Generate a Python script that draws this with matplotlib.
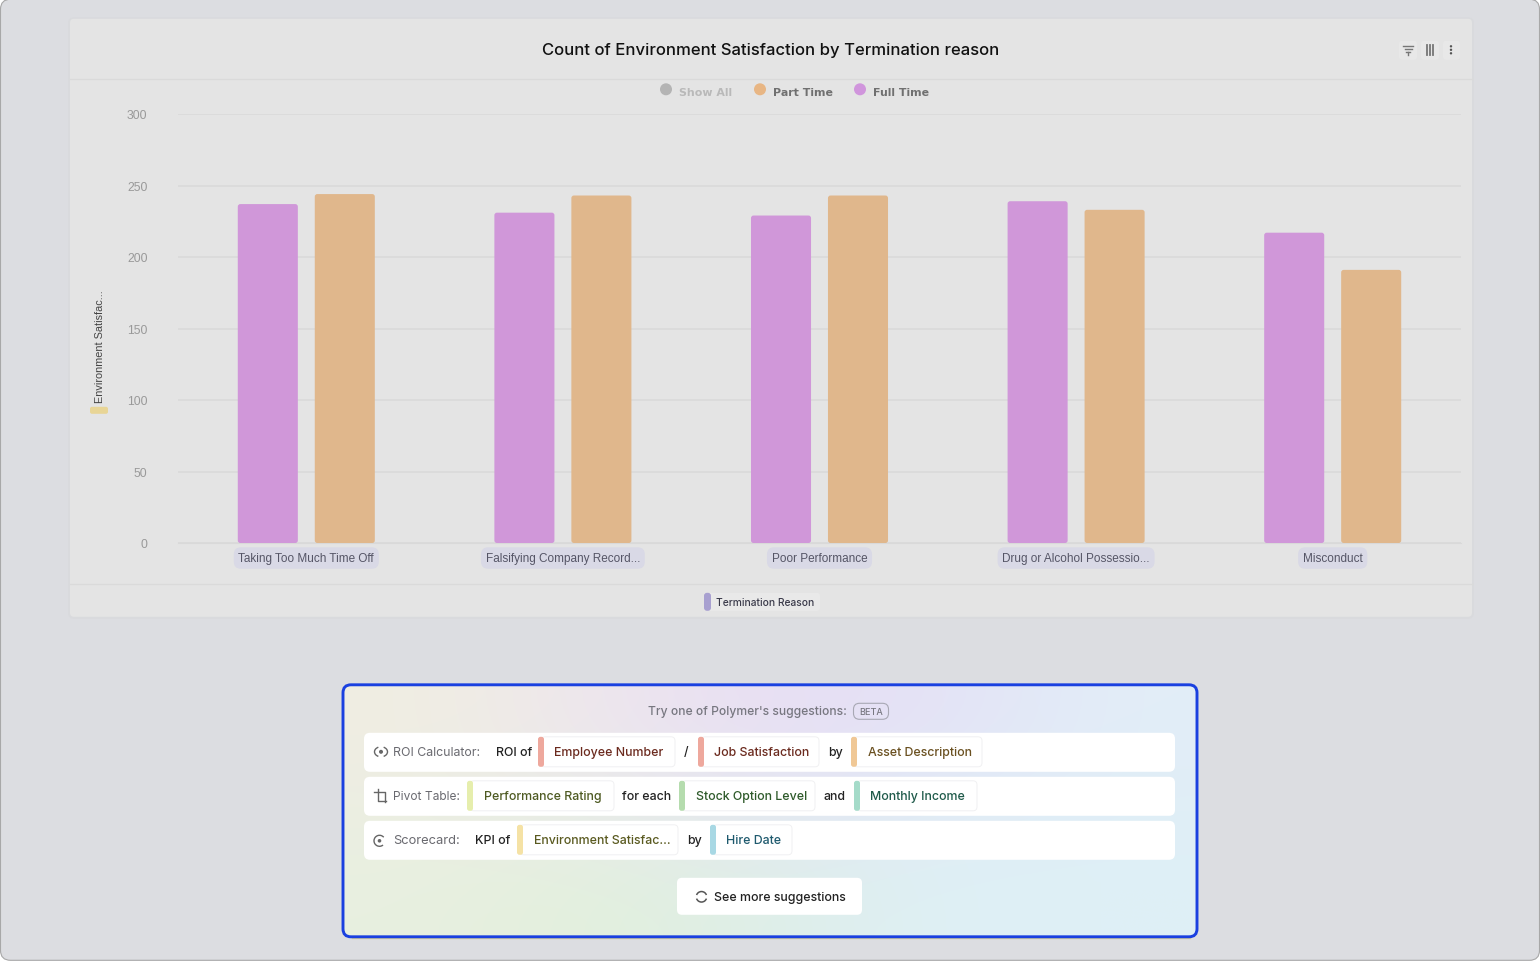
import numpy as np
import matplotlib
matplotlib.use("Agg")
import matplotlib.pyplot as plt
from matplotlib.patches import FancyBboxPatch, Circle, Arc

# chart values
categories = ["Taking Too Much Time Off", "Falsifying Company Record...", "Poor Performance",
              "Drug or Alcohol Possessio...", "Misconduct"]
full_time = [237, 231, 229, 239, 217]
part_time = [244, 243, 243, 233, 191]
y_ticks = [0, 50, 100, 150, 200, 250, 300]

title = "Count of Environment Satisfaction by Termination reason"
legend_names = ["Show All", "Part Time", "Full Time"]

W, H = 1540, 962
SANS = ["Inter", "DejaVu Sans"]
ARIAL = ["Liberation Sans", "DejaVu Sans"]
SHIFT = 0.8  # nudges the whole layer down to sit on the reference pixels

fig = plt.figure(figsize=(W / 100, H / 100), dpi=100, facecolor="white")
ui = fig.add_axes([0, 0, 1, 1], zorder=0)
ui.set_xlim(0, W)
ui.set_ylim(H - SHIFT, -SHIFT)
ui.axis("off")


def box(x0, y0, x1, y1, fc, ec="none", r=4, lw=0, z=1):
    p = FancyBboxPatch((x0, y0), x1 - x0, y1 - y0, boxstyle="round,pad=0,rounding_size=%g" % r,
                       fc=fc, ec=ec, lw=lw, zorder=z)
    ui.add_patch(p)
    return p


def label(x, y, s, size=8.9, color="#222222", ha="left", family=SANS, weight="normal", z=5, **kw):
    return ui.text(x, y, s, fontsize=size, color=color, ha=ha, va="center", family=family,
                   weight=weight, zorder=z, **kw)


# page and card
box(0.5, -0.5, W - 0.5, H - 1.5, "#dcdde1", "#a8a8a8", r=10, lw=0.8, z=0)
box(68, 17.5, 1474, 619, "#d9dadd", r=6, z=1)
box(70, 19, 1472, 617, "#e4e4e4", r=4, z=2)
ui.plot([70, 1472], [79.5, 79.5], color="#dadada", lw=1, zorder=3)
ui.plot([70, 1472], [584.5, 584.5], color="#dadada", lw=1, zorder=3)
label(770.5, 49.5, title, size=12.0, color="#111111", ha="center", weight="medium")

# toolbar icons, top right
for x0, x1 in [(1399, 1417), (1421, 1439), (1443, 1460)]:
    box(x0, 41, x1, 60, "#e8e8e8", r=3, z=3)
for y, half in [(46.5, 5), (49.5, 3.5), (52.5, 2)]:
    ui.plot([1408 - half, 1408 + half], [y, y], color="#777777", lw=1, zorder=4)
ui.plot([1408, 1408], [52.5, 55], color="#777777", lw=1, zorder=4)
for x in [1426.5, 1429.5, 1432.5]:
    ui.plot([x, x], [45, 55], color="#777777", lw=1.3, zorder=4)
for y in [46.5, 50, 53.5]:
    ui.add_patch(Circle((1451, y), 1.2, fc="#555555", zorder=4))

# legend above the plot
legend_dots = ["#b4b4b4", "#e8b684", "#d095dc"]
legend_colors = ["#b9b9b9", "#707070", "#707070"]
for cx, name, dot, col in zip([666, 760, 860], legend_names, legend_dots, legend_colors):
    ui.add_patch(Circle((cx, 89.5), 6, fc=dot, zorder=4))
    label(cx + 13, 92, name, size=7.9, color=col, family=["DejaVu Sans"], weight="bold")

# the bar chart, placed on the pixel box of the original plot
ax = fig.add_axes([178 / W, 1 - 544 / H, (1461 - 178) / W, (544 - 115) / H], zorder=2)
ax.patch.set_alpha(0)
x = np.arange(len(categories))
ax.set_xlim(-0.5, len(categories) - 0.5)
ax.set_ylim(0, 300)
bar_w = 0.234
# rounded corners: radius in x data units, aspect turns it into even pixels
y_per_x = (300 / 429) / (5 / 1283)
for i in range(len(categories)):
    for off, v, col in [(-0.15, full_time[i], "#d097d9"), (0.15, part_time[i], "#e0b78c")]:
        ax.add_patch(FancyBboxPatch((x[i] + off - bar_w / 2, 0), bar_w, v,
                                    boxstyle="round,pad=0,rounding_size=0.01",
                                    mutation_aspect=y_per_x, fc=col, ec="none", zorder=3))
ax.set_yticks(y_ticks)
ax.set_xticks(x)
ax.set_xticklabels(categories)
ax.grid(axis="y", color="#d9d9d9", lw=1.1, zorder=0)
ax.tick_params(axis="y", length=0, pad=22, labelcolor="#999999", labelsize=8.8)
ax.tick_params(axis="x", length=0, pad=6.5, labelcolor="#555566", labelsize=8.5)
for s in ax.spines.values():
    s.set_visible(False)
ax.spines["bottom"].set_visible(True)
ax.spines["bottom"].set_color("#d9d9d9")
for t in ax.get_yticklabels():
    t.set_family(ARIAL)
for t in ax.get_xticklabels():
    t.set_family(ARIAL)
    t.set_bbox(dict(boxstyle="round,pad=0.4,rounding_size=0.6", fc="#d9d9e6", ec="none"))

# y axis field name with its little pill
label(100, 345.5, "Environment Satisfac...", size=7.8, color="#444444", ha="center", family=ARIAL,
      rotation=90, rotation_mode="anchor")
box(90, 407, 108, 414, "#e8d596", r=2, z=4)

# x axis field chip
box(706, 593, 820, 611, "#e9e9e9", r=3, z=3)
box(704, 593, 711, 611, "#a8a0d0", r=3, z=4)
label(716, 602, "Termination Reason", size=7.4, color="#3a3a4a", weight="medium")

# suggestions panel, soft gradient clipped to the rounded box
grad = np.array([
    [[240, 238, 226], [238, 230, 238], [232, 222, 244], [228, 226, 246], [226, 238, 248]],
    [[236, 238, 226], [232, 236, 232], [228, 232, 242], [224, 236, 246], [224, 238, 246]],
    [[232, 240, 224], [226, 240, 220], [222, 238, 232], [222, 240, 246], [222, 240, 246]],
]) / 255
ui.plot([352, 1190], [938.5, 938.5], color="#d8cf9c", lw=1, zorder=1)
panel = box(343, 685, 1197, 937, "none", r=8, z=2)
img = ui.imshow(grad, extent=(343, 1197, 937, 685), interpolation="bicubic", aspect="auto", zorder=2)
img.set_clip_path(panel)
ui.set_xlim(0, W)
ui.set_ylim(H - SHIFT, -SHIFT)
box(343, 685, 1197, 937, "none", "#1a40e0", r=8, lw=2.1, z=6)

label(847, 711, "Try one of Polymer's suggestions:", size=8.7, color="#777780", ha="right", weight="medium",
      z=7)
box(853.5, 703.5, 888.5, 719.5, "none", "#a8a8b4", r=6, lw=0.8, z=7)
label(871, 711.5, "BETA", size=6.5, color="#777780", ha="center", weight="medium", z=7)

row_tops = [733, 777, 821]
row_names = ["ROI Calculator:", "Pivot Table:", "Scorecard:"]
row_sizes = [8.9, 8.6, 9.3]
for top, name, sz in zip(row_tops, row_names, row_sizes):
    box(364, top, 1175, top + 39, "#ffffff", r=6, z=3)
    label(393, top + 19, name, size=sz, color="#6a6a70", z=7)

# chip: stripe start, chip end, text, stripe colour, text colour
chips = [
    (0, 538, 675, "Employee Number", "#eea89d", "#6b2a1e"),
    (0, 698, 819, "Job Satisfaction", "#eea89d", "#6b2a1e"),
    (0, 851, 982, "Asset Description", "#f0c896", "#6a5020"),
    (1, 467, 614, "Performance Rating", "#e6eead", "#4e5a22"),
    (1, 679, 815, "Stock Option Level", "#b5dcae", "#2e5a2a"),
    (1, 854, 977, "Monthly Income", "#a5dbc9", "#1f5a4a"),
    (2, 517, 678, "Environment Satisfac...", "#f5e2a5", "#5a5a20"),
    (2, 710, 792, "Hire Date", "#a8d8e4", "#1f5a6e"),
]
for row, x0, x1, s, stripe, col in chips:
    top = row_tops[row] + 4
    box(x0 + 3, top, x1, top + 30, "#ffffff", "#f0f0f2", r=4, lw=0.7, z=4)
    box(x0, top, x0 + 6, top + 30, stripe, r=2.5, z=5)
    label(x0 + 16.5, top + 15, s, color=col, z=7, weight="medium")

# words between the chips
joiners = [(0, 496, "ROI of"), (0, 684, "/"), (0, 828, "by"),
           (1, 622, "for each"), (1, 824, "and"),
           (2, 475, "KPI of"), (2, 687, "by")]
for row, jx, s in joiners:
    label(jx, row_tops[row] + 19, s, color="#222222", z=7, weight="medium")

# tiny row icons
ui.add_patch(Circle((381, 752), 2, fc="#666666", zorder=7))
ui.add_patch(Arc((381, 752), 13, 10, theta1=120, theta2=240, color="#666666", lw=1, zorder=7))
ui.add_patch(Arc((381, 752), 13, 10, theta1=-60, theta2=60, color="#666666", lw=1, zorder=7))
ui.plot([374, 385, 385], [792, 792, 802], color="#666666", lw=1, zorder=7)
ui.plot([378, 378, 386], [789, 801, 801], color="#666666", lw=1, zorder=7)
ui.add_patch(Arc((379.5, 841), 11, 11, theta1=50, theta2=320, color="#666666", lw=1, zorder=7))
ui.add_patch(Circle((379.5, 841), 1.8, fc="#666666", zorder=7))

# see more button
box(677, 878, 862, 915, "#ffffff", r=5, z=3)
ui.add_patch(Arc((701.5, 897), 10.5, 10.5, theta1=20, theta2=160, color="#555555", lw=1.1, zorder=7))
ui.add_patch(Arc((701.5, 897), 10.5, 10.5, theta1=200, theta2=340, color="#555555", lw=1.1, zorder=7))
label(714, 897, "See more suggestions", color="#222222", z=7, weight="medium")

fig.savefig("out.png", dpi=100, facecolor="white")
